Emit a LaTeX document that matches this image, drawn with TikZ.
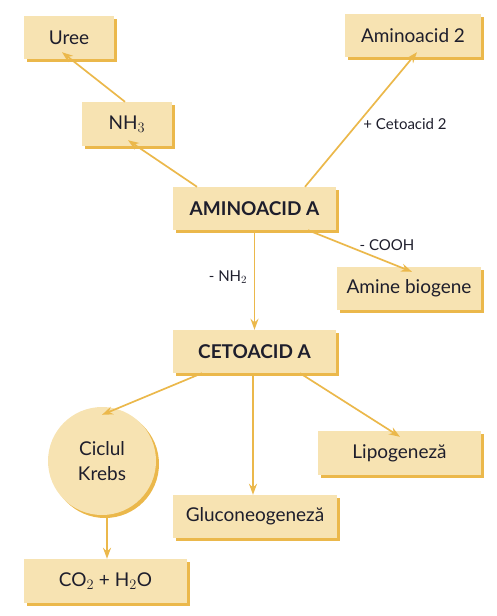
\documentclass[tikz,border=0pt]{standalone}
\usepackage{fontspec}
\setmainfont{Lato}
\usetikzlibrary{shadows,calc,arrows.meta}
\definecolor{boxfill}{HTML}{F7E3B2}
\definecolor{gold}{HTML}{EBB84B}
\definecolor{ink}{HTML}{1E1E2C}
\begin{document}
\begin{tikzpicture}[x=1pt,y=-1pt,
  box/.style={rectangle, fill=boxfill, inner sep=0pt, text=ink,
    font=\fontsize{19}{22}\selectfont,
    drop shadow={shadow xshift=3pt,shadow yshift=-3pt,opacity=1,fill=gold}},
  bigbox/.style={box, font=\fontsize{19}{22}\selectfont\bfseries},
  lbl/.style={text=ink, font=\fontsize{15}{17}\selectfont, inner sep=0pt},
  arr/.style={draw=gold, line width=1.7pt, -{Stealth[length=11pt,width=8pt]}}]
\useasboundingbox (0,0) rectangle (497,616);
\node[box, minimum width=90pt, minimum height=43pt] (uree) at (69,37.5) {Uree};
\node[box, minimum width=90pt, minimum height=44pt] (nh3) at (127,124) {NH$_3$};
\node[box, minimum width=136pt, minimum height=43pt] (am2) at (413,35.5) {Aminoacid 2};
\node[bigbox, minimum width=163pt, minimum height=43pt] (aa) at (254.5,208.5) {AMINOACID A};
\node[box, minimum width=144pt, minimum height=43pt] (amine) at (409,288.5) {Amine biogene};
\node[bigbox, minimum width=163pt, minimum height=43pt] (ceto) at (254.5,351.5) {CETOACID A};
\node[box, circle, minimum size=108pt, align=center, font=\fontsize{19}{25}\selectfont] (krebs) at (102,461) {Ciclul\\Krebs};
\node[box, minimum width=163pt, minimum height=44pt] (lipo) at (399.5,453) {Lipogenez\u{a}};
\node[box, minimum width=164pt, minimum height=43pt] (gluco) at (255,516.5) {Gluconeogenez\u{a}};
\node[box, minimum width=163pt, minimum height=44pt] (co2) at (105.5,581) {CO$_2$ + H$_2$O};

\draw[arr] ($(nh3.north)+(-2,0)$) -- ($(uree.south)+(-7,-7)$);
\draw[arr] ($(aa.north)+(-57.5,0)$) -- ($(nh3.south)+(1,-6)$);
\draw[arr] ($(aa.north)+(50.5,0)$) -- ($(am2.south)+(4,-5)$);
\draw[arr] ($(aa.south)+(53.5,0)$) -- ($(amine.north)+(3,5)$);
\draw[arr] (aa.south) -- (ceto.north);
\draw[arr] ($(ceto.south)+(-52.5,0)$) -- ($(krebs.north)+(0,8)$);
\draw[arr] ($(ceto.south)+(-1.5,0)$) -- ($(gluco.north)+(-2,0)$);
\draw[arr] ($(ceto.south)+(45.5,0)$) -- ($(lipo.north)+(0.5,6)$);
\draw[arr] ($(krebs.south)+(5,-0.3)$) -- ($(co2.north)+(1.5,0)$);

\node[lbl] (l1) at (405,124) {+ Cetoacid 2};
\node[lbl] (l2) at (387,245) {- COOH};
\node[lbl] (l3) at (228,277) {- NH$_2$};
\end{tikzpicture}
\end{document}
